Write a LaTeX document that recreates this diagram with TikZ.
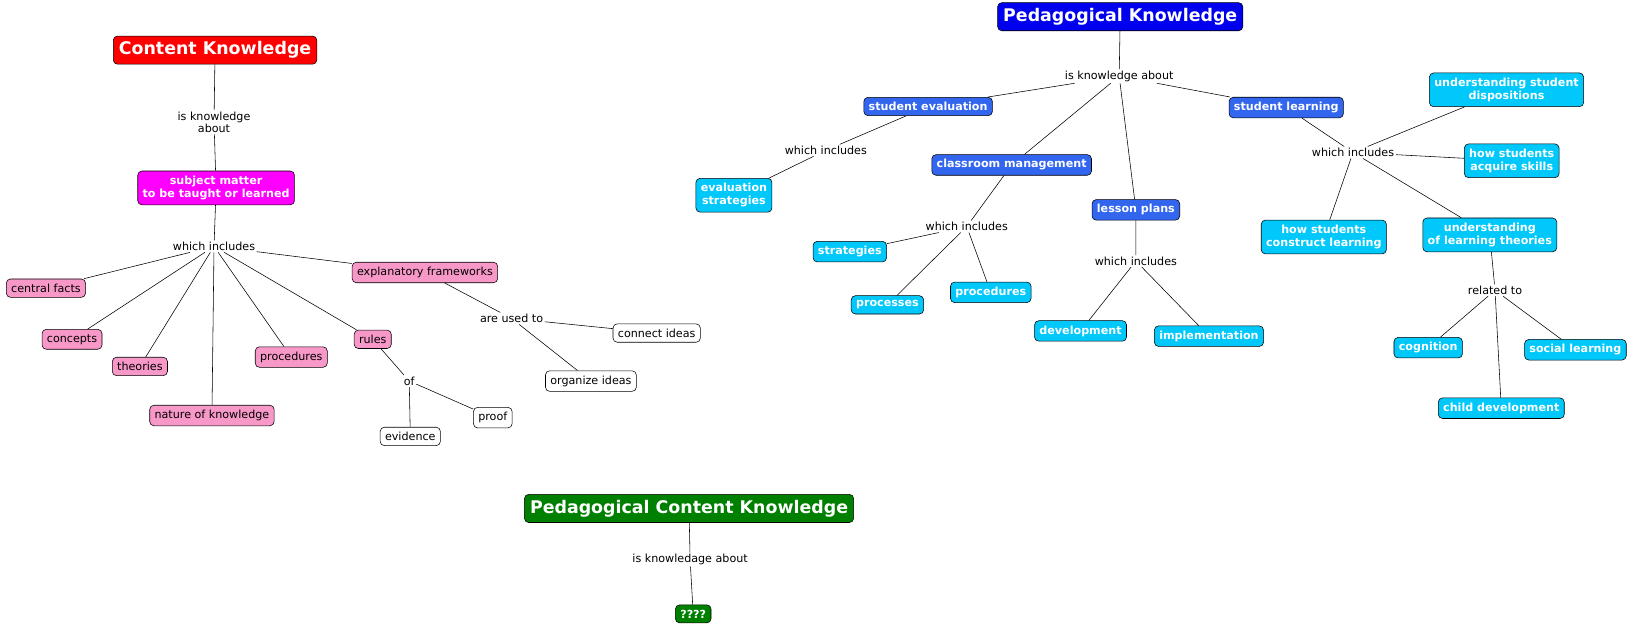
\documentclass[tikz,border=0pt]{standalone}
\usepackage{fontspec}
\setmainfont{DejaVu Sans}
\definecolor{ckred}{HTML}{FF0000}
\definecolor{ckmag}{HTML}{FF00FF}
\definecolor{ckpink}{HTML}{F898C8}
\definecolor{pkblue}{HTML}{0000EE}
\definecolor{pkroyal}{HTML}{3366EE}
\definecolor{pkcyan}{HTML}{00C8FA}
\definecolor{pckgreen}{HTML}{008000}
\tikzset{
  box/.style={draw=black,rounded corners=3pt,inner sep=3.5pt,align=center,font=\fontsize{8}{9}\selectfont},
  title/.style={box,text=white,font=\fontsize{12.5}{14}\bfseries\selectfont,inner sep=4pt},
  pink/.style={box,fill=ckpink},
  plain/.style={box,fill=white},
  royal/.style={box,fill=pkroyal,text=white,font=\fontsize{8}{9.5}\bfseries\selectfont},
  cyan/.style={box,fill=pkcyan,text=white,font=\fontsize{8}{9.5}\bfseries\selectfont},
  lab/.style={inner sep=1pt,align=center,font=\fontsize{8}{9}\selectfont},
  link/.style={draw,thin}
}
\begin{document}
\begin{tikzpicture}[x=0.75pt,y=-0.75pt]
\useasboundingbox (0,0) rectangle (1568,601);
% content knowledge
\node[title,fill=ckred] (ck) at (206,48) {Content Knowledge};
\node[lab] (ckabout) at (205,117) {is knowledge\\about};
\node[box,fill=ckmag,text=white,font=\fontsize{8}{9.5}\bfseries\selectfont] (subj) at (207,180) {subject matter\\to be taught or learned};
\node[lab] (ckinc) at (205,236) {which includes};
\node[pink] (facts) at (44,276) {central facts};
\node[pink] (expl) at (407,261) {explanatory frameworks};
\node[pink] (concepts) at (69,325) {concepts};
\node[pink] (theories) at (134,351) {theories};
\node[pink] (cproc) at (279,342) {procedures};
\node[pink] (rules) at (357,325) {rules};
\node[pink] (nature) at (203,398) {nature of knowledge};
\node[lab] (usedto) at (490,305) {are used to};
\node[plain] (connect) at (629,319) {connect ideas};
\node[plain] (organize) at (566,365) {organize ideas};
\node[lab] (of) at (392,365) {of};
\node[plain] (proof) at (472,400) {proof};
\node[plain] (evidence) at (393,418) {evidence};
\draw[link] (ck) -- (ckabout) -- (subj) -- (ckinc);
\foreach \n in {facts,expl,concepts,theories,cproc,rules,nature}
  \draw[link] (ckinc) -- (\n);
\draw[link] (expl) -- (usedto) -- (connect);
\draw[link] (usedto) -- (organize);
\draw[link] (rules) -- (of) -- (proof);
\draw[link] (of) -- (evidence);
% pedagogical knowledge
\node[title,fill=pkblue] (pk) at (1073,16) {Pedagogical Knowledge};
\node[lab] (pkabout) at (1072,73) {is knowledge about};
\node[royal] (seval) at (889,102) {student evaluation};
\node[royal] (slearn) at (1232,103) {student learning};
\node[royal] (cman) at (969,158) {classroom management};
\node[royal] (lplans) at (1088,201) {lesson plans};
\draw[link] (pk) -- (pkabout);
\foreach \n in {seval,slearn,cman,lplans}
  \draw[link] (pkabout) -- (\n);
\node[lab] (evinc) at (791,144) {which includes};
\node[cyan] (evstrat) at (703,187) {evaluation\\strategies};
\draw[link] (seval) -- (evinc) -- (evstrat);
\node[lab] (cminc) at (926,217) {which includes};
\node[cyan] (strat) at (814,241) {strategies};
\node[cyan] (processes) at (850,292) {processes};
\node[cyan] (pproc) at (949,280) {procedures};
\draw[link] (cman) -- (cminc);
\foreach \n in {strat,processes,pproc}
  \draw[link] (cminc) -- (\n);
\node[lab] (lpinc) at (1088,250) {which includes};
\node[cyan] (devel) at (1035,317) {development};
\node[cyan] (impl) at (1158,322) {implementation};
\draw[link] (lplans) -- (lpinc) -- (devel);
\draw[link] (lpinc) -- (impl);
\node[lab] (slinc) at (1296,146) {which includes};
\node[cyan] (dispo) at (1443,86) {understanding student\\dispositions};
\node[cyan] (skills) at (1448,154) {how students\\acquire skills};
\node[cyan] (construct) at (1268,227) {how students\\construct learning};
\node[cyan] (theory) at (1427,225) {understanding\\of learning theories};
\draw[link] (slearn) -- (slinc);
\foreach \n in {dispo,skills,construct,theory}
  \draw[link] (slinc) -- (\n);
\node[lab] (relto) at (1432,278) {related to};
\node[cyan] (cogn) at (1368,333) {cognition};
\node[cyan] (social) at (1509,335) {social learning};
\node[cyan] (child) at (1438,391) {child development};
\draw[link] (theory) -- (relto);
\foreach \n in {cogn,social,child}
  \draw[link] (relto) -- (\n);
% pedagogical content knowledge
\node[title,fill=pckgreen] (pck) at (660,487) {Pedagogical Content Knowledge};
\node[lab] (pckabout) at (661,536) {is knowledage about};
\node[box,fill=pckgreen,text=white,font=\fontsize{8}{9.5}\bfseries\selectfont] (qq) at (664,588) {????};
\draw[link] (pck) -- (pckabout) -- (qq);
\end{tikzpicture}
\end{document}
